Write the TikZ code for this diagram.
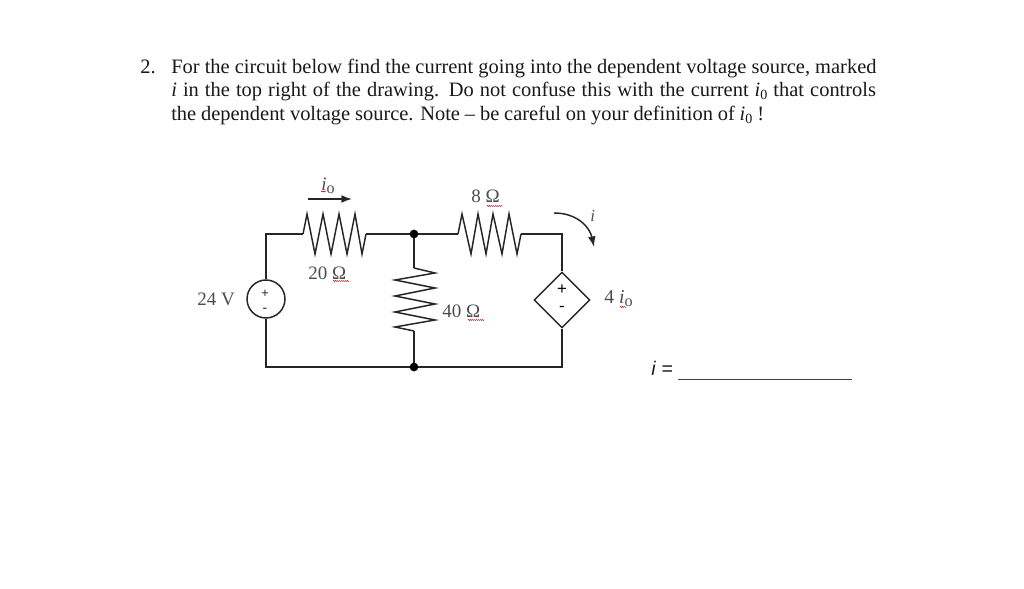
\documentclass[tikz,border=0pt]{standalone}
\usepackage{fontspec}
\setmainfont{Liberation Serif}
\setsansfont{Liberation Sans}
\usetikzlibrary{calc}
\usetikzlibrary{arrows.meta}
\usetikzlibrary{shapes.geometric}
\usetikzlibrary{decorations.pathmorphing}
\tikzset{>={Latex[length=7.5pt,width=5.5pt]}}
\tikzset{
  wire/.style={line width=1.05pt,black!85},
  body/.style={anchor=base west,inner sep=0pt,font=\fontsize{14.54}{17}\selectfont,text=black!90},
  lab/.style={anchor=base west,inner sep=0pt,font=\fontsize{13.5}{15}\selectfont,text=black!70},
  squig/.style={draw=red!75!black,line width=0.3pt,decorate,decoration={zigzag,amplitude=0.35pt,segment length=1.4pt}},
  dotnode/.style={circle,fill=black,inner sep=0pt,minimum size=6.2pt}
}
\newcommand{\iosub}{\textit{i}\raisebox{-0.25ex}{\fontsize{11.5}{11.5}\selectfont o}}
\newcommand{\ionote}{\textit{i}\raisebox{-0.3ex}{\fontsize{10}{10}\selectfont 0}}
\begin{document}
\begin{tikzpicture}[x=0.025cm,y=-0.025cm]
    \useasboundingbox (0,0) rectangle (1024,589);

    \coordinate (TL) at (266,234);
    \coordinate (BL) at (266,367);
    \coordinate (TR) at (562,234);
    \coordinate (BR) at (562,367);
    \coordinate (A20) at (303,234);
    \coordinate (B20) at (366,234);
    \coordinate (A8) at (458,234);
    \coordinate (B8) at (521,234);
    \coordinate (A40) at (414,268);
    \coordinate (B40) at (414,331);
    \coordinate (IOa) at (308,199);
    \coordinate (IOb) at (352,199);
    \coordinate (Ia) at (554,213);
    \coordinate (Ib) at (594,247);

    \node[circle,draw,wire,minimum size=38pt*0.711,inner sep=0pt] (Vs) at (266,299) {};
    \node[diamond,draw,wire,minimum width=56pt*0.711,minimum height=56pt*0.711,inner sep=0pt] (Vd) at (562,300) {};
    \coordinate (Mj) at (414,234);
    \coordinate (Nj) at (414,367);

    \draw[wire](Vs.north)--(TL)--(A20);
    \draw[wire](Vs.south)--(BL)--(Nj);
    \draw[wire](Nj)--(BR)--(Vd.south);
    \draw[wire](Vd.north)--(TR)--(B8);
    \draw[wire](B20)--(Mj)--(A8);
    \draw[wire](Mj)--(A40);
    \draw[wire](B40)--(Nj);
    \node[dotnode] (M) at (Mj) {};
    \node[dotnode] (N) at (Nj) {};

    % resistors
    \draw[wire](A20)--(307,214)--(315,254)--(323,214)--(331,254)--(339,214)--(347,254)--(355,214)--(362,254)--(B20);
    \draw[wire](A8)--(462,214)--(471,254)--(478,214)--(486,254)--(493,214)--(502,254)--(509,214)--(517,254)--(B8);
    \draw[wire](A40)--(435,273)--(395,280)--(435,288)--(395,296)--(435,304)--(395,312)--(435,320)--(395,327)--(B40);

    % arrows
    \draw[->,wire](IOa)--(IOb);
    \draw[->,wire](Ia) .. controls (578,213) and (590,228) .. (Ib);

    % source signs
    \node[lab,anchor=center,font=\fontsize{9}{9}\selectfont\sffamily,text=black!85] (VsP) at (265,294) {+};
    \node[lab,anchor=center,font=\fontsize{10}{9}\selectfont\sffamily,text=black!85] (VsM) at (265,310) {-};
    \node[lab,anchor=center,font=\fontsize{12}{11}\selectfont\sffamily,text=black] (VdP) at (562,290) {+};
    \node[lab,anchor=center,font=\fontsize{12}{11}\selectfont\sffamily,text=black] (VdM) at (562,309) {-};

    % labels
    \node[lab] (Lio) at (321,191) {\iosub};
    \node[lab] (L20) at (308,280) {20 Ω};
    \node[lab] (L8) at (471,203) {8 Ω};
    \node[lab] (L40) at (442,318) {40 Ω};
    \node[lab] (L24) at (197,306) {24 V};
    \node[lab,font=\fontsize{12}{15}\selectfont] (Li) at (590,222) {\textit{i}};
    \node[lab,font=\fontsize{14}{15}\selectfont] (L4) at (604,304) {4 \iosub};

    % spelling marks
    \draw[squig](333,281)--(349,281);
    \draw[squig](487,206)--(502,206);
    \draw[squig](468,320)--(484,320);
    \draw[squig](321,191.5)--(326,191.5);
    \draw[squig](620,307)--(626,307);

    % question
    \node[body] (Qn) at (140,74) {2.};
    \node[body] (Q1) at (171,74) {For the circuit below find the current going into the dependent voltage source, marked};
    \node[body] (Q2) at (171,97) {\makebox[501.2pt][s]{\textit{i} in the top right of the drawing. Do not confuse this with the current \ionote{} that controls}};
    \node[body] (Q3) at (171,121) {\makebox[421.6pt][s]{the dependent voltage source. Note – be careful on your definition of \ionote{} !}};

    % answer
    \coordinate (AL) at (678,379.5);
    \coordinate (AR) at (852,379.5);
    \node[body,font=\fontsize{14}{16}\selectfont\sffamily] (Ans) at (651,375) {\textit{i} =};
    \draw[line width=0.7pt,black!75](AL)--(AR);
\end{tikzpicture}
\end{document}
